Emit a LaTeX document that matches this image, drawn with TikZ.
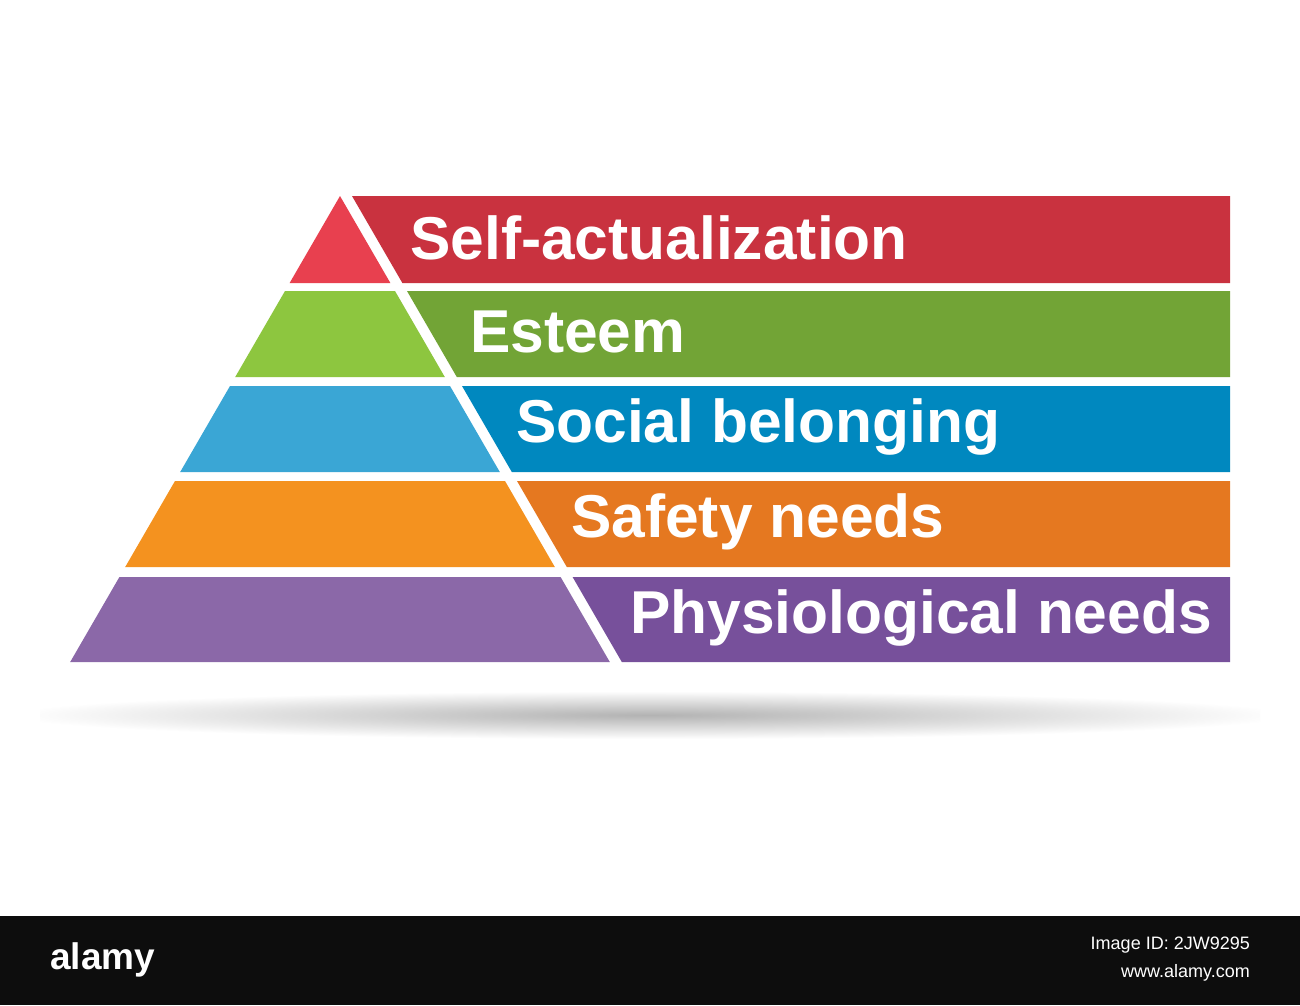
\documentclass[tikz,border=0pt]{standalone}
\usepackage{fontspec}
\setmainfont{Liberation Sans}
\begin{document}
\begin{tikzpicture}[x=1pt,y=-1pt,
  lbl/.style={text=white,font=\fontsize{60.5}{64}\selectfont\bfseries,anchor=west,inner sep=0pt}]
\useasboundingbox (0,0) rectangle (1300,1005);
\fill[white] (0,0) rectangle (1300,1005);
% shadow
\begin{scope}
\clip (40,690) rectangle (1260,740);
\shade[inner color=black!30,outer color=white] (650,715) ellipse (640 and 24);
\end{scope}
\foreach \t/\b/\cl/\cr/\txt/\tx/\n in {
 196/283/E8404F/C9323F/Self-actualization/410/a,
 291/377/8DC63F/72A436/Esteem/470/b,
 386/472/3AA6D5/0088BF/Social belonging/516/c,
 481/567/F4921F/E57820/Safety needs/571/d,
 577/662/8B68A8/77509B/Physiological needs/630/e}{
 \definecolor{cl}{HTML}{\cl}\definecolor{cr}{HTML}{\cr}
 \fill[cl] ({340-0.579*(\t-196)},\t) -- ({340+0.579*(\t-196)},\t) -- ({340+0.579*(\b-196)},\b) -- ({340-0.579*(\b-196)},\b) -- cycle;
 \fill[cr] ({352+0.579*(\t-196)},\t) -- (1230,\t) -- (1230,\b) -- ({352+0.579*(\b-196)},\b) -- cycle;
 \node[lbl] (\n) at (\tx,{(\t+\b)/2-2}) {\txt};
}
% bottom bar
\fill[black!95] (0,916) rectangle (1300,1005);
\node[text=white,font=\fontsize{37}{40}\selectfont\bfseries,anchor=west,inner sep=0pt] (logo) at (50,960) {alamy};
\node[text=white,font=\fontsize{18}{20}\selectfont,anchor=east,inner sep=0pt] (id) at (1250,945) {Image ID: 2JW9295};
\node[text=white,font=\fontsize{18}{20}\selectfont,anchor=east,inner sep=0pt] (url) at (1250,973) {www.alamy.com};
\end{tikzpicture}
\end{document}
